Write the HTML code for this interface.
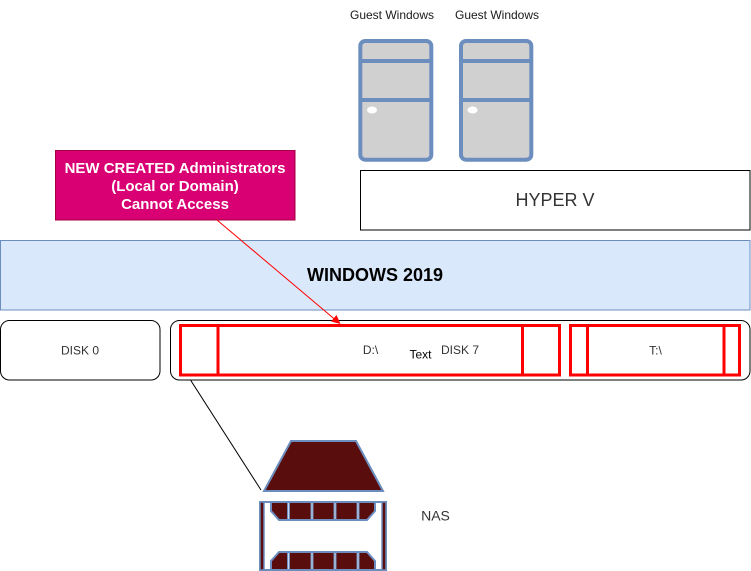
<!DOCTYPE html>
<html><head><meta charset="utf-8"><style>
html,body{margin:0;padding:0;background:#fff;}
svg{display:block;font-family:"Liberation Sans",Arial,sans-serif;}
</style></head><body>
<svg width="751" height="571" viewBox="0 0 751 571" xmlns="http://www.w3.org/2000/svg">
<rect x="0" y="0" width="751" height="571" fill="#fff"/>
<!-- Guest labels -->
<text x="392" y="19" font-size="12" text-anchor="middle" fill="#1a1a1a">Guest Windows</text>
<text x="497" y="19" font-size="12" text-anchor="middle" fill="#1a1a1a">Guest Windows</text>
<!-- servers -->
<g stroke="#6c8ebf" stroke-width="4" fill="#d0d0d0">
<rect x="360.3" y="41" width="71" height="118.7" rx="5"/>
<line x1="360.3" y1="61" x2="431.3" y2="61"/>
<line x1="360.3" y1="100" x2="431.3" y2="100"/>
<rect x="461" y="41" width="70.3" height="118.7" rx="5"/>
<line x1="461" y1="61" x2="531.3" y2="61"/>
<line x1="461" y1="100" x2="531.3" y2="100"/>
</g>
<ellipse cx="372" cy="110" rx="5" ry="3.5" fill="#fff"/>
<ellipse cx="472.5" cy="110" rx="5" ry="3.5" fill="#fff"/>
<!-- Hyper V -->
<rect x="360.5" y="170.5" width="389.5" height="59.5" fill="#fff" stroke="#000" stroke-width="1"/>
<text x="555" y="206" font-size="18" text-anchor="middle" fill="#333">HYPER V</text>
<!-- Pink box -->
<rect x="55.5" y="150.5" width="239.5" height="69.5" fill="#d80073" stroke="#a50040" stroke-width="1"/>
<g font-size="15" font-weight="bold" fill="#fff" text-anchor="middle">
<text x="175" y="173">NEW CREATED Administrators</text>
<text x="175" y="191">(Local or Domain)</text>
<text x="175" y="209">Cannot Access</text>
</g>
<!-- Windows band -->
<rect x="0.5" y="240.5" width="749.5" height="69.5" fill="#dae8fc" stroke="#6c8ebf" stroke-width="1"/>
<text x="375" y="281" font-size="18" font-weight="bold" text-anchor="middle" fill="#000">WINDOWS 2019</text>
<!-- Disk 0 -->
<rect x="0.5" y="320.5" width="159.5" height="59.5" rx="9" fill="#fff" stroke="#000" stroke-width="1"/>
<text x="80" y="354.5" font-size="12" text-anchor="middle" fill="#333">DISK 0</text>
<!-- Disk 7 outer -->
<rect x="170.5" y="320.5" width="579.5" height="59.5" rx="9" fill="#fff" stroke="#000" stroke-width="1"/>
<!-- red partitions -->
<g fill="none" stroke="#ff0000" stroke-width="3">
<rect x="180.5" y="325.5" width="379" height="49.5"/>
<line x1="218" y1="325.5" x2="218" y2="375"/>
<line x1="522.5" y1="325.5" x2="522.5" y2="375"/>
<rect x="570.5" y="325.5" width="169" height="49.5"/>
<line x1="587.5" y1="325.5" x2="587.5" y2="375"/>
<line x1="724" y1="325.5" x2="724" y2="375"/>
</g>
<text x="370.5" y="354" font-size="12" text-anchor="middle" fill="#333">D:\</text>
<text x="420.5" y="358.5" font-size="12" text-anchor="middle" fill="#000">Text</text>
<text x="460" y="354" font-size="12" text-anchor="middle" fill="#333">DISK 7</text>
<text x="655.5" y="354.5" font-size="12" text-anchor="middle" fill="#333">T:\</text>
<!-- red arrow -->
<line x1="217" y1="220" x2="335" y2="319.5" stroke="#ff0000" stroke-width="1"/>
<polygon points="340.5,324 331,321.5 336.5,315" fill="#ff0000"/>
<!-- black connector to NAS -->
<line x1="190.5" y1="380" x2="261" y2="490" stroke="#000" stroke-width="1"/>
<!-- NAS -->
<polygon points="291,441 356,441 383,491 264,491" fill="#5a0d0d" stroke="#6c8ebf" stroke-width="2"/>
<rect x="260" y="502" width="126" height="68" fill="#fff" stroke="#6c8ebf" stroke-width="2"/>
<rect x="260" y="502" width="4" height="68" fill="#5a0d0d" stroke="#6c8ebf" stroke-width="1.5"/>
<rect x="382" y="502" width="4" height="68" fill="#5a0d0d" stroke="#6c8ebf" stroke-width="1.5"/>
<g fill="#5a0d0d" stroke="#6c8ebf" stroke-width="2">
<polygon points="271,502 375,502 375,511 367,520 279,520 271,511"/>
<polygon points="279,552 367,552 375,561 375,570 271,570 271,561"/>
</g>
<g stroke="#6c8ebf" stroke-width="3">
<line x1="288.5" y1="502" x2="288.5" y2="520"/>
<line x1="312" y1="502" x2="312" y2="520"/>
<line x1="335" y1="502" x2="335" y2="520"/>
<line x1="358" y1="502" x2="358" y2="520"/>
<line x1="288.5" y1="552" x2="288.5" y2="570"/>
<line x1="312" y1="552" x2="312" y2="570"/>
<line x1="335" y1="552" x2="335" y2="570"/>
<line x1="358" y1="552" x2="358" y2="570"/>
</g>
<g stroke="#c9d6ea" stroke-width="1">
<line x1="288.5" y1="503" x2="288.5" y2="519"/>
<line x1="312" y1="503" x2="312" y2="519"/>
<line x1="335" y1="503" x2="335" y2="519"/>
<line x1="358" y1="503" x2="358" y2="519"/>
<line x1="288.5" y1="553" x2="288.5" y2="569"/>
<line x1="312" y1="553" x2="312" y2="569"/>
<line x1="335" y1="553" x2="335" y2="569"/>
<line x1="358" y1="553" x2="358" y2="569"/>
</g>
<text x="435.5" y="520.5" font-size="14" text-anchor="middle" fill="#333">NAS</text>
</svg>
</body></html>
